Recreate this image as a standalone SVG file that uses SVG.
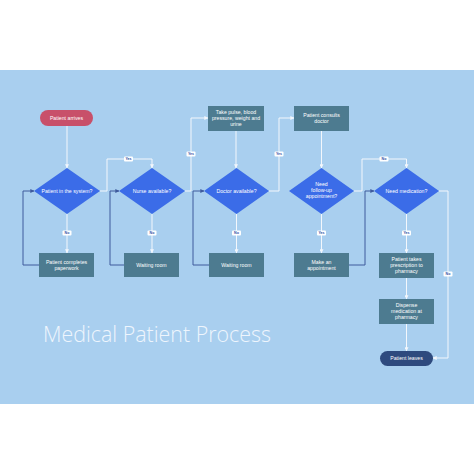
<svg xmlns="http://www.w3.org/2000/svg" width="474" height="474" viewBox="0 0 474 474">
<defs>
<style>
.bg{fill:#a9cfef}
.dia{fill:#3b6ce8}
.box{fill:#4d7b90}
.t{font-family:"Liberation Sans",Arial,sans-serif;font-size:5.2px;fill:#ffffff;text-anchor:middle}
.w{fill:none;stroke:#f3f7fc;stroke-width:1}
.d{fill:none;stroke:#3e5a9c;stroke-width:1}
.lb{fill:#ffffff}
.lt{font-family:"Liberation Sans",Arial,sans-serif;font-size:3.6px;font-weight:bold;fill:#2f4fa3;text-anchor:middle}
.title{font-family:"Open Sans","Liberation Sans",sans-serif;font-weight:300;font-size:21.5px;fill:#eef5fd}
</style>
<marker id="aw" viewBox="0 0 6 6" refX="5.5" refY="3" markerWidth="4" markerHeight="4" orient="auto" markerUnits="userSpaceOnUse"><path d="M0,0 L6,3 L0,6 z" fill="#f3f7fc"/></marker>
<marker id="ad" viewBox="0 0 6 6" refX="5.5" refY="3" markerWidth="4" markerHeight="4" orient="auto" markerUnits="userSpaceOnUse"><path d="M0,0 L6,3 L0,6 z" fill="#3e5a9c"/></marker>
</defs>
<rect class="bg" x="0" y="70" width="474" height="334"/>
<g id="connectors">
<path class="w" d="M67,126 V168" marker-end="url(#aw)"/>
<path class="w" d="M100,191 H107 V159 H152 V168" marker-end="url(#aw)"/>
<path class="w" d="M67,214 V253" marker-end="url(#aw)"/>
<path class="w" d="M152,214 V253" marker-end="url(#aw)"/>
<path class="w" d="M185,191 H191 V118 H208" marker-end="url(#aw)"/>
<path class="w" d="M236,131 V168" marker-end="url(#aw)"/>
<path class="w" d="M236.5,214 V253" marker-end="url(#aw)"/>
<path class="w" d="M269,191 H279 V118 H294" marker-end="url(#aw)"/>
<path class="w" d="M321.5,131 V168" marker-end="url(#aw)"/>
<path class="w" d="M321.5,214 V253" marker-end="url(#aw)"/>
<path class="w" d="M354,191 H362 V159 H406.5 V168" marker-end="url(#aw)"/>
<path class="w" d="M406.5,214 V253" marker-end="url(#aw)"/>
<path class="w" d="M439,191 H448 V358 H433" marker-end="url(#aw)"/>
<path class="w" d="M406.5,278 V299" marker-end="url(#aw)"/>
<path class="w" d="M406.5,324 V351" marker-end="url(#aw)"/>
<path class="d" d="M39,265 H23 V191 H34" marker-end="url(#ad)"/>
<path class="d" d="M124,265 H110 V191 H119" marker-end="url(#ad)"/>
<path class="d" d="M209,265 H193 V191 H204" marker-end="url(#ad)"/>
<path class="d" d="M349,265 H365 V191 H374" marker-end="url(#ad)"/>
<g id="labels">
<rect class="lb" x="124" y="156.5" width="9" height="5" rx="1"/><text class="lt" x="128.5" y="160.3">Yes</text>
<rect class="lb" x="62.5" y="230.5" width="9" height="5" rx="1"/><text class="lt" x="67" y="234.3">No</text>
<rect class="lb" x="147.5" y="230.5" width="9" height="5" rx="1"/><text class="lt" x="152" y="234.3">No</text>
<rect class="lb" x="186.5" y="151.5" width="9" height="5" rx="1"/><text class="lt" x="191" y="155.3">Yes</text>
<rect class="lb" x="232" y="230.5" width="9" height="5" rx="1"/><text class="lt" x="236.5" y="234.3">No</text>
<rect class="lb" x="274.5" y="151.5" width="9" height="5" rx="1"/><text class="lt" x="279" y="155.3">Yes</text>
<rect class="lb" x="317" y="230.5" width="9" height="5" rx="1"/><text class="lt" x="321.5" y="234.3">Yes</text>
<rect class="lb" x="379.5" y="156.5" width="9" height="5" rx="1"/><text class="lt" x="384" y="160.3">No</text>
<rect class="lb" x="402" y="230.5" width="9" height="5" rx="1"/><text class="lt" x="406.5" y="234.3">Yes</text>
<rect class="lb" x="443.5" y="271.5" width="9" height="5" rx="1"/><text class="lt" x="448" y="275.3">No</text>
</g>
</g>
<g id="start"><rect x="40" y="110" width="53" height="16" rx="8" fill="#c8506a"/><text class="t" x="66.5" y="119.8">Patient arrives</text></g>
<g id="d1"><polygon class="dia" points="67,168 100,191 67,214 34,191"/><text class="t" x="67" y="192.8">Patient in the system?</text></g>
<g id="d2"><polygon class="dia" points="152,168 185,191 152,214 119,191"/><text class="t" x="152" y="192.8">Nurse available?</text></g>
<g id="d3"><polygon class="dia" points="236.5,168 269,191 236.5,214 204,191"/><text class="t" x="236.5" y="192.8">Doctor available?</text></g>
<g id="d4"><polygon class="dia" points="321.5,168 354,191 321.5,214 289,191"/><text class="t" x="321.5" y="186.3">Need</text><text class="t" x="321.5" y="192.3">follow-up</text><text class="t" x="321.5" y="198.3">appointment?</text></g>
<g id="d5"><polygon class="dia" points="406.5,168 439,191 406.5,214 374,191"/><text class="t" x="406.5" y="192.8">Need medication?</text></g>
<g id="b1"><rect class="box" x="39" y="253" width="55" height="24"/><text class="t" x="66.5" y="263.5">Patient completes</text><text class="t" x="66.5" y="269.8">paperwork</text></g>
<g id="b2"><rect class="box" x="124" y="253" width="55" height="24"/><text class="t" x="151.5" y="266.8">Waiting room</text></g>
<g id="b3"><rect class="box" x="209" y="253" width="55" height="24"/><text class="t" x="236.5" y="266.8">Waiting room</text></g>
<g id="b4"><rect class="box" x="294" y="253" width="55" height="24"/><text class="t" x="321.5" y="263.5">Make an</text><text class="t" x="321.5" y="269.8">appointment</text></g>
<g id="b5"><rect class="box" x="379" y="253" width="55" height="25"/><text class="t" x="406.5" y="260.5">Patient takes</text><text class="t" x="406.5" y="266.5">prescription to</text><text class="t" x="406.5" y="272.5">pharmacy</text></g>
<g id="b6"><rect class="box" x="379" y="299" width="55" height="25"/><text class="t" x="406.5" y="306.5">Dispense</text><text class="t" x="406.5" y="312.5">medication at</text><text class="t" x="406.5" y="318.5">pharmacy</text></g>
<g id="t1"><rect class="box" x="208" y="106" width="56" height="25"/><text class="t" x="236" y="113.5">Take pulse, blood</text><text class="t" x="236" y="119.5">pressure, weight and</text><text class="t" x="236" y="125.5">urine</text></g>
<g id="t2"><rect class="box" x="294" y="106" width="55" height="25"/><text class="t" x="321.5" y="116.5">Patient consults</text><text class="t" x="321.5" y="122.5">doctor</text></g>
<g id="end"><rect x="380" y="351" width="53" height="15" rx="7.5" fill="#2e4a7e"/><text class="t" x="406.5" y="360.3">Patient leaves</text></g>
<text class="title" x="43" y="342" textLength="228" lengthAdjust="spacingAndGlyphs">Medical Patient Process</text>
</svg>
